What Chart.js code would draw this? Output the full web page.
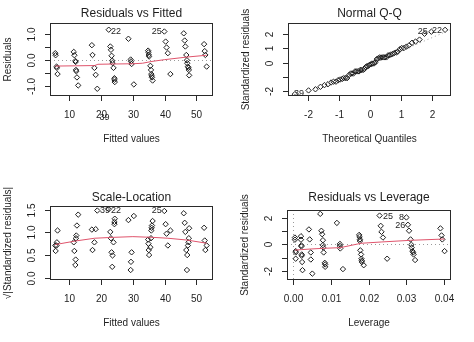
<!DOCTYPE html>
<html>
<head>
<meta charset="utf-8">
<script src="https://cdn.jsdelivr.net/npm/chart.js@4/dist/chart.umd.min.js"></script>
<style>
  html, body { margin: 0; padding: 0; background: #ffffff; }
  #wrap { position: relative; width: 474px; height: 342px; overflow: hidden; }
  #wrap canvas { position: absolute; left: 0; top: 0; }
</style>
</head>
<body>
<div id="wrap">
  <canvas id="rvf" width="474" height="342"></canvas>
  <canvas id="qq" width="474" height="342"></canvas>
  <canvas id="sl" width="474" height="342"></canvas>
  <canvas id="rvl" width="474" height="342"></canvas>
</div>
<script>
// ---- lm diagnostics: one entry per observation (62 observations) ----
const fitted = [
  5.6, 5.7, 6.0, 6.1, 6.3,
  11.4, 11.6, 11.9, 12.0, 12.1, 12.2, 12.4, 12.8,
  17.1, 17.3, 17.9, 18.3, 18.8,
  22.4, 22.9, 23.1, 23.3, 23.5, 23.6, 23.9, 24.2, 24.2, 24.3,
  28.6, 29.3, 29.4, 29.6, 30.3,
  34.8, 34.9, 35.0, 35.1, 35.5, 35.7, 35.8, 35.9, 36.0, 36.2,
  39.9, 40.3, 40.6, 41.0, 41.8,
  46.0, 46.3, 46.5, 46.8, 47.0, 47.1, 47.3, 47.5, 47.6, 47.7,
  52.4, 52.6, 52.8, 53.2
];
const residuals = [
  0.26, 0.18, -0.26, -0.31, -0.55,
  0.31, 0.18, -0.04, -0.08, -0.39, -0.44, -0.68, -0.99,
  0.57, 0.19, -0.31, -0.58, -1.12,
  1.17, 0.52, 0.39, 0.16, -0.03, -0.12, -0.31, -0.71, -0.77, -0.86,
  0.82, 0.015, -0.06, -0.16, -0.95,
  0.36, 0.29, 0.19, 0.13, -0.23, -0.39, -0.55, -0.62, -0.68, -0.80,
  1.10, 0.71, 0.48, 0.26, -0.55,
  1.03, 0.75, 0.52, 0.19, -0.015, -0.13, -0.26, -0.31, -0.39, -0.60,
  0.61, 0.34, 0.19, -0.26
];
const stdResid = [
  0.51, 0.35, -0.51, -0.61, -1.08,
  0.61, 0.35, -0.08, -0.16, -0.76, -0.86, -1.33, -1.94,
  1.12, 0.37, -0.61, -1.14, -2.20,
  2.29, 1.02, 0.76, 0.31, -0.06, -0.24, -0.61, -1.39, -1.51, -1.69,
  1.61, 0.03, -0.12, -0.31, -1.86,
  0.71, 0.57, 0.37, 0.25, -0.45, -0.76, -1.08, -1.22, -1.33, -1.57,
  2.16, 1.39, 0.94, 0.51, -1.08,
  2.02, 1.47, 1.02, 0.37, -0.03, -0.25, -0.51, -0.61, -0.76, -1.18,
  1.20, 0.67, 0.37, -0.51
];
const sqrtAbsStdResid = [
  0.71, 0.59, 0.71, 0.78, 1.04,
  0.78, 0.59, 0.28, 0.40, 0.87, 0.93, 1.15, 1.39,
  1.06, 0.61, 0.78, 1.07, 1.48,
  1.51, 1.01, 0.87, 0.56, 0.24, 0.49, 0.78, 1.18, 1.23, 1.30,
  1.27, 0.17, 0.35, 0.56, 1.36,
  0.84, 0.75, 0.61, 0.50, 0.67, 0.87, 1.04, 1.10, 1.15, 1.25,
  1.47, 1.18, 0.97, 0.71, 1.04,
  1.42, 1.21, 1.01, 0.61, 0.17, 0.50, 0.71, 0.78, 0.87, 1.09,
  1.10, 0.82, 0.61, 0.71
];
const leverage = [
  0.0005, 0.0005, 0.0007, 0.0007, 0.0007,
  0.0021, 0.0021, 0.0022, 0.0022, 0.0023, 0.0023, 0.0024, 0.0025,
  0.0042, 0.0044, 0.0047, 0.0047, 0.0051,
  0.0072, 0.0075, 0.0077, 0.0079, 0.0079, 0.0080, 0.0081, 0.0084, 0.0085, 0.0085,
  0.0116, 0.0124, 0.0124, 0.0125, 0.0132,
  0.0175, 0.0176, 0.0177, 0.0177, 0.0178, 0.0180, 0.0181, 0.0182, 0.0182, 0.0187,
  0.0229, 0.0232, 0.0234, 0.0238, 0.0249,
  0.0300, 0.0304, 0.0307, 0.0311, 0.0313, 0.0314, 0.0316, 0.0318, 0.0319, 0.0323,
  0.0390, 0.0393, 0.0395, 0.0401
];

// Normal Q-Q: theoretical quantiles and sorted standardized residuals
const qqTheoretical = [
  -2.41, -1.97, -1.75, -1.59, -1.46, -1.35, -1.25, -1.17, -1.09, -1.02,
  -0.96, -0.89, -0.84, -0.78, -0.73, -0.67, -0.62, -0.58, -0.53, -0.48,
  -0.44, -0.39, -0.35, -0.31, -0.27, -0.22, -0.18, -0.14, -0.10, -0.06,
  -0.02, 0.02, 0.06, 0.10, 0.14, 0.18, 0.22, 0.27, 0.31, 0.35,
  0.39, 0.44, 0.48, 0.53, 0.58, 0.62, 0.67, 0.73, 0.78, 0.84,
  0.89, 0.96, 1.02, 1.09, 1.17, 1.25, 1.35, 1.46, 1.59, 1.75,
  1.97, 2.41
];
const qqSample = [
  -2.20, -1.94, -1.86, -1.69, -1.57, -1.51, -1.39, -1.33, -1.33, -1.22,
  -1.18, -1.14, -1.08, -1.08, -1.08, -0.86, -0.76, -0.76, -0.76, -0.61,
  -0.61, -0.61, -0.61, -0.51, -0.51, -0.51, -0.45, -0.31, -0.25, -0.24,
  -0.16, -0.12, -0.08, -0.06, -0.03, 0.03, 0.25, 0.31, 0.35, 0.35,
  0.37, 0.37, 0.37, 0.37, 0.51, 0.51, 0.57, 0.61, 0.67, 0.71,
  0.76, 0.94, 1.02, 1.02, 1.12, 1.20, 1.39, 1.47, 1.61, 2.02,
  2.16, 2.29
];
const qqLineX = [-2.63, 2.60];
const qqLineY = [-2.60, 2.32];

// lowess smooths
const smoothFittedX = [5.6, 12, 18, 19, 24, 30, 33, 36, 40, 47, 53.2];
const smoothResid   = [-0.24, -0.23, -0.22, -0.17, -0.16, -0.15, -0.13, -0.06, 0.01, 0.11, 0.18];
const smoothScaleX  = [5.6, 12, 18, 24, 30, 36, 41, 47, 53.2];
const smoothScale   = [0.73, 0.81, 0.87, 0.89, 0.905, 0.89, 0.87, 0.83, 0.76];
const smoothLevX    = [0.0005, 0.0022, 0.0047, 0.008, 0.0125, 0.018, 0.0235, 0.031, 0.0401];
const smoothLev     = [-0.43, -0.40, -0.35, -0.30, -0.25, 0.08, 0.18, 0.30, 0.40];

// tick values and labels
const fittedTicks = [10, 20, 30, 40, 50];
const residTicks = [-1, -0.5, 0, 0.5, 1];
const residTickLabels = ['-1.0', '', '0.0', '', '1.0'];
const quantTicks = [-2, -1, 0, 1, 2];
const quantTickLabels = ['-2', '-1', '0', '1', '2'];
const qqYTicks = [-2, -1, 0, 1, 2];
const qqYTickLabels = ['-2', '', '0', '1', '2'];
const scaleTicks = [0, 0.5, 1, 1.5];
const scaleTickLabels = ['0.0', '0.5', '1.0', '1.5'];
const levTicks = [0, 0.01, 0.02, 0.03, 0.04];
const levTickLabels = ['0.00', '0.01', '0.02', '0.03', '0.04'];
const levYTicks = [-2, -1, 0, 1, 2];
const levYTickLabels = ['-2', '', '0', '', '2'];

// observation id labels [x, y, text]
const idsFitted = [[24.7, 1.10, '22'], [37.5, 1.10, '25'], [21.1, -2.22, '39']];
const idsQQ = [[-2.28, -2.14, '39'], [1.69, 2.18, '25'], [2.15, 2.23, '22']];
const idsScale = [[21.2, 1.47, '39'], [24.7, 1.47, '22'], [37.5, 1.47, '25']];
const idsLev = [[0.0251, 2.12, '25'], [0.0287, 2.0, '8'], [0.0284, 1.45, '26']];

// ---- drawing ----
const FONT = '"Liberation Sans", Arial, sans-serif';
const INK = '#1e1e1e';
const SMOOTH_RED = '#DF536B';
const REF_GRAY = '#9a9a9a';

function xyData(xs, ys) { return xs.map((v, i) => ({ x: v, y: ys[i] })); }

function pointsSet(xs, ys) {
  return {
    data: xyData(xs, ys), showLine: false, order: 2,
    pointStyle: 'rectRot', pointRadius: 2.7, pointBorderWidth: 1,
    borderColor: INK, backgroundColor: 'rgba(0,0,0,0)'
  };
}
function lineSet(xs, ys, color, dash) {
  return {
    data: xyData(xs, ys), showLine: true, order: 1, pointRadius: 0,
    borderColor: color, borderWidth: 1, borderDash: dash || [], tension: 0, fill: false
  };
}

// R-style frame: box, outward ticks, rotated y labels, caption and id labels
function panelPlugin(ax) {
  return {
    id: 'rPanel',
    beforeDatasetsDraw(chart) {
      const { ctx, chartArea: a, scales: { x, y } } = chart;
      ctx.save();
      ctx.beginPath();
      ctx.rect(a.left, a.top, a.right - a.left, a.bottom - a.top);
      ctx.clip();
      ctx.strokeStyle = REF_GRAY;
      ctx.lineWidth = 1;
      ctx.setLineDash([1, 3]);
      (ax.hLines || []).forEach(v => {
        const py = Math.round(y.getPixelForValue(v)) + 0.5;
        ctx.beginPath(); ctx.moveTo(a.left, py); ctx.lineTo(a.right, py); ctx.stroke();
      });
      (ax.vLines || []).forEach(v => {
        const px = Math.round(x.getPixelForValue(v)) + 0.5;
        ctx.beginPath(); ctx.moveTo(px, a.top); ctx.lineTo(px, a.bottom); ctx.stroke();
      });
      ctx.restore();
    },
    afterDraw(chart) {
      const { ctx, chartArea: a, scales: { x, y } } = chart;
      ctx.save();
      ctx.strokeStyle = '#2a2a2a';
      ctx.lineWidth = 1;
      ctx.strokeRect(a.left + 0.5, a.top + 0.5, a.right - a.left - 1, a.bottom - a.top - 1);

      ctx.fillStyle = INK;
      ctx.textAlign = 'center';
      ctx.textBaseline = 'middle';
      ctx.font = '10px ' + FONT;

      // x axis
      ax.xTicks.forEach((v, i) => {
        const px = Math.round(x.getPixelForValue(v)) + 0.5;
        ctx.beginPath(); ctx.moveTo(px, a.bottom); ctx.lineTo(px, a.bottom + 5); ctx.stroke();
        ctx.fillText(ax.xLabels[i], px, a.bottom + 19);
      });
      // y axis (labels parallel to the axis)
      ax.yTicks.forEach((v, i) => {
        const py = Math.round(y.getPixelForValue(v)) + 0.5;
        ctx.beginPath(); ctx.moveTo(a.left - 5, py); ctx.lineTo(a.left, py); ctx.stroke();
        if (ax.yLabels[i]) {
          ctx.save();
          ctx.translate(a.left - 18, py);
          ctx.rotate(-Math.PI / 2);
          ctx.fillText(ax.yLabels[i], 0, 0);
          ctx.restore();
        }
      });
      // axis titles
      const cx = (a.left + a.right) / 2;
      const cy = (a.top + a.bottom) / 2;
      ctx.fillText(ax.xTitle, cx, a.bottom + 43);
      ctx.save();
      ctx.translate(a.left - 42, cy);
      ctx.rotate(-Math.PI / 2);
      ctx.fillText(ax.yTitle, 0, 0);
      ctx.restore();

      // caption
      ctx.font = '12px ' + FONT;
      ctx.fillText(ax.title, cx, ax.titleY);

      // id labels
      ctx.font = '9px ' + FONT;
      (ax.ids || []).forEach(([vx, vy, t]) => {
        ctx.fillText(t, x.getPixelForValue(vx), y.getPixelForValue(vy));
      });
      ctx.restore();
    }
  };
}

function panel(canvasId, box, xr, yr, datasets, ax) {
  new Chart(document.getElementById(canvasId), {
    type: 'scatter',
    data: { datasets },
    options: {
      responsive: false, animation: false, events: [],
      layout: { padding: { left: box[0], top: box[1], right: 474 - box[2], bottom: 342 - box[3] } },
      plugins: { legend: { display: false }, tooltip: { enabled: false }, title: { display: false } },
      scales: {
        x: { type: 'linear', display: false, min: xr[0], max: xr[1] },
        y: { type: 'linear', display: false, min: yr[0], max: yr[1] }
      }
    },
    plugins: [panelPlugin(ax)]
  });
}

// Residuals vs Fitted
panel('rvf', [50, 23, 213, 96], [3.93, 55.2], [-1.40, 1.43],
  [lineSet(smoothFittedX, smoothResid, SMOOTH_RED), pointsSet(fitted, residuals)],
  { xTicks: fittedTicks, xLabels: fittedTicks.map(String), yTicks: residTicks, yLabels: residTickLabels,
    xTitle: 'Fitted values', yTitle: 'Residuals', title: 'Residuals vs Fitted', titleY: 14,
    hLines: [0], ids: idsFitted });

// Normal Q-Q
panel('qq', [288, 23, 451, 96], [-2.63, 2.60], [-2.33, 2.77],
  [lineSet(qqLineX, qqLineY, REF_GRAY, [1, 3]), pointsSet(qqTheoretical, qqSample)],
  { xTicks: quantTicks, xLabels: quantTickLabels, yTicks: qqYTicks, yLabels: qqYTickLabels,
    xTitle: 'Theoretical Quantiles', yTitle: 'Standardized residuals', title: 'Normal Q-Q', titleY: 14,
    ids: idsQQ });

// Scale-Location
panel('sl', [50, 206, 213, 280], [3.93, 55.2], [-0.05, 1.58],
  [lineSet(smoothScaleX, smoothScale, SMOOTH_RED), pointsSet(fitted, sqrtAbsStdResid)],
  { xTicks: fittedTicks, xLabels: fittedTicks.map(String), yTicks: scaleTicks, yLabels: scaleTickLabels,
    xTitle: 'Fitted values', yTitle: '\u221A|Standardized residuals|', title: 'Scale-Location', titleY: 198,
    ids: idsScale });

// Residuals vs Leverage
panel('rvl', [287, 210, 451, 280], [-0.0016, 0.0418], [-2.68, 2.58],
  [lineSet(smoothLevX, smoothLev, SMOOTH_RED), pointsSet(leverage, stdResid)],
  { xTicks: levTicks, xLabels: levTickLabels, yTicks: levYTicks, yLabels: levYTickLabels,
    xTitle: 'Leverage', yTitle: 'Standardized residuals', title: 'Residuals vs Leverage', titleY: 198,
    hLines: [0], vLines: [0], ids: idsLev });
</script>
</body>
</html>
